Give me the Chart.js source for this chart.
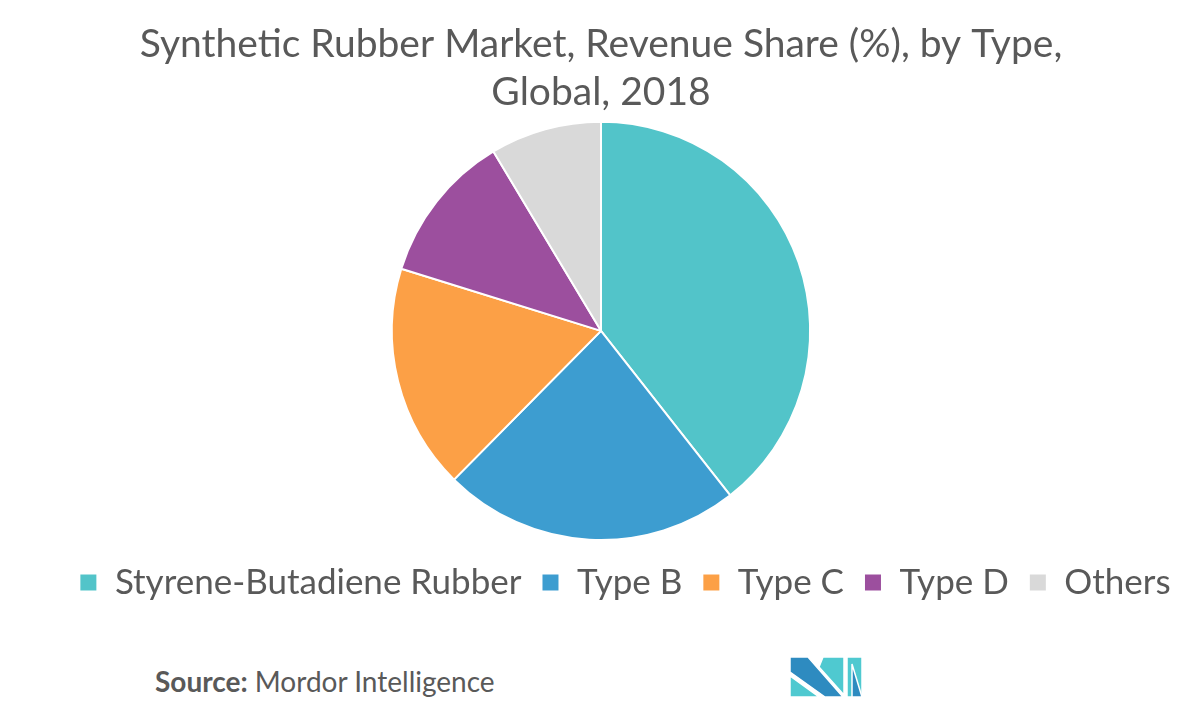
<!DOCTYPE html>
<html>
<head>
<meta charset="utf-8">
<script src="https://cdn.jsdelivr.net/npm/chart.js@4.4.0/dist/chart.umd.min.js"></script>
<style>
  html, body { margin: 0; padding: 0; background: #fff; }
  #wrap { position: relative; width: 1202px; height: 721px; }
  #chartBox { position: absolute; left: 0; top: 0; width: 1202px; height: 606px; }
  #source { position: absolute; left: 155px; top: 664px; font-family: Lato, sans-serif; font-size: 28px; color: #595959; }
  #source b { font-weight: 700; }
  #logo { position: absolute; left: 788px; top: 655px; }
</style>
</head>
<body>
<div id="wrap">
  <div id="chartBox"><canvas id="chart"></canvas></div>
  <div id="source"><b>Source:</b> Mordor Intelligence</div>
  <svg id="logo" width="76" height="44" viewBox="0 0 76 44">
    <g stroke="#fff" stroke-width="1.5">
      <polygon points="2,2 20,2 55,42 37,42 2,17" fill="#2E8BC0"/>
      <polygon points="2,21 2,42 31,42" fill="#4FC9D0"/>
      <polygon points="35,2 56,2 56,40 31,12" fill="#4FC9D0"/>
      <polygon points="59,2 74,2 74,42 59,42" fill="#4FC9D0"/>
      <polygon points="64,9 64,42 74,42" fill="#2E8BC0"/>
    </g>
  </svg>
</div>
<script>
const categories = ["Styrene-Butadiene Rubber", "Type B", "Type C", "Type D", "Others"];
const shares = [39.4, 23.0, 17.4, 11.6, 8.6];
const colors = ["#52C4C9", "#3D9DD0", "#FCA046", "#9C4F9E", "#D9D9D9"];
const titleLines = ["Synthetic Rubber Market, Revenue Share (%), by Type,", "Global, 2018"];

const textColor = "#595959";

// legend in the original sits a bit right of centre and slightly lower
const nudgeLegend = {
    id: "nudgeLegend",
    afterUpdate(chart) {
        const lg = chart.legend;
        lg.left += 24; lg.right += 24;
        lg.top += 4; lg.bottom += 4;
    },
};

new Chart(document.getElementById("chart").getContext("2d"), {
    type: "pie",
    data: {
        labels: categories,
        datasets: [{
            data: shares,
            backgroundColor: colors,
            borderColor: "#FFFFFF",
            borderWidth: 2,
        }],
    },
    options: {
        responsive: true,
        maintainAspectRatio: false,
        animation: false,
        layout: { padding: { top: 20, bottom: 0 } },
        plugins: {
            tooltip: { enabled: false },
            title: {
                display: true,
                text: titleLines,
                color: textColor,
                font: { family: "Lato", size: 39, weight: "normal", lineHeight: 1.24 },
                padding: { top: 0, bottom: 4 },
            },
            legend: {
                position: "bottom",
                labels: {
                    color: textColor,
                    font: { family: "Lato", size: 35 },
                    boxWidth: 18,
                    boxHeight: 18,
                    padding: 20,
                },
            },
        },
    },
    plugins: [nudgeLegend],
});
</script>
</body>
</html>
